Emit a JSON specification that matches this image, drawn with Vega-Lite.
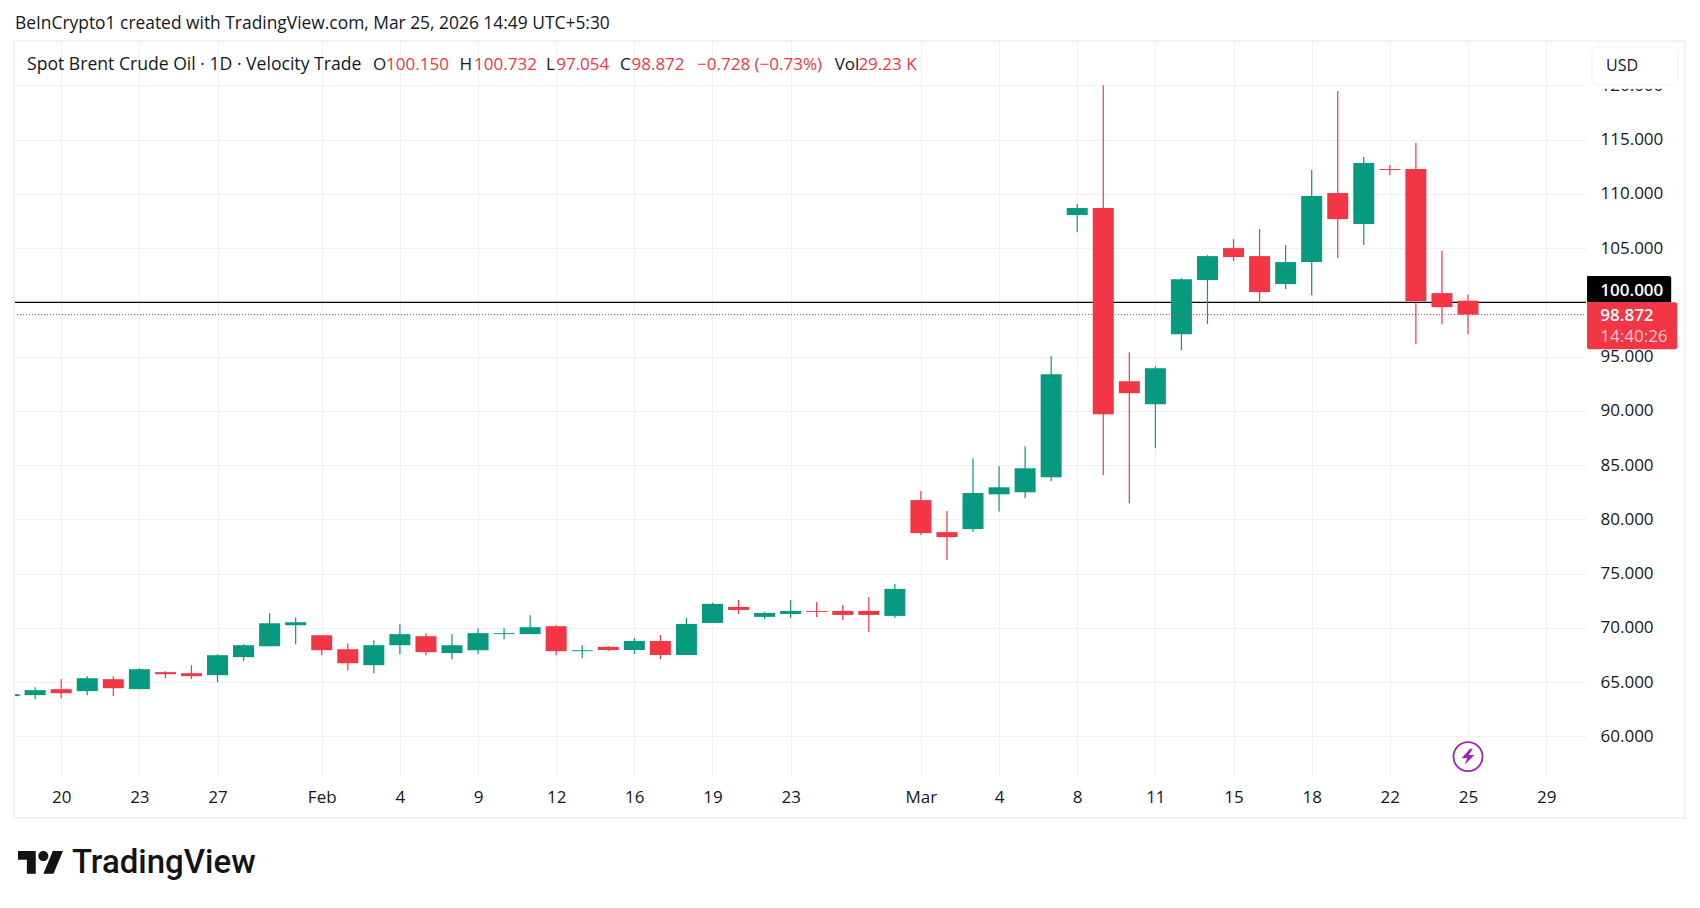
{
  "$schema": "https://vega.github.io/schema/vega-lite/v6.json",
  "description": "Spot Brent Crude Oil daily candles, TradingView snapshot",
  "width": 1572,
  "height": 735,
  "autosize": "none",
  "padding": {"left": 14, "top": 41, "right": 114, "bottom": 132},
  "background": "white",
  "config": {
    "font": "Open Sans",
    "view": {"stroke": null},
    "text": {"font": "Open Sans", "fontSize": 17, "align": "left", "baseline": "middle", "color": "#131722"}
  },
  "datasets": {
    "candles": [
      {"bar": 0, "open": 63.72, "high": 63.9, "low": 63.72, "close": 63.9},
      {"bar": 1, "open": 63.81, "high": 64.54, "low": 63.44, "close": 64.27},
      {"bar": 2, "open": 64.36, "high": 65.28, "low": 63.53, "close": 63.99},
      {"bar": 3, "open": 64.18, "high": 65.56, "low": 63.81, "close": 65.37},
      {"bar": 4, "open": 65.28, "high": 65.56, "low": 63.72, "close": 64.45},
      {"bar": 5, "open": 64.36, "high": 66.29, "low": 64.36, "close": 66.2},
      {"bar": 6, "open": 65.93, "high": 66.02, "low": 65.37, "close": 65.74},
      {"bar": 7, "open": 65.83, "high": 66.57, "low": 65.28, "close": 65.56},
      {"bar": 8, "open": 65.65, "high": 67.58, "low": 65.0, "close": 67.49},
      {"bar": 9, "open": 67.31, "high": 68.5, "low": 66.94, "close": 68.41},
      {"bar": 10, "open": 68.32, "high": 71.36, "low": 68.32, "close": 70.44},
      {"bar": 11, "open": 70.25, "high": 70.99, "low": 68.5, "close": 70.53},
      {"bar": 12, "open": 69.33, "high": 69.33, "low": 67.49, "close": 67.95},
      {"bar": 13, "open": 68.04, "high": 68.6, "low": 66.11, "close": 66.75},
      {"bar": 14, "open": 66.57, "high": 68.87, "low": 65.83, "close": 68.41},
      {"bar": 15, "open": 68.41, "high": 70.35, "low": 67.58, "close": 69.43},
      {"bar": 16, "open": 69.24, "high": 69.52, "low": 67.49, "close": 67.77},
      {"bar": 17, "open": 67.68, "high": 69.43, "low": 67.12, "close": 68.41},
      {"bar": 18, "open": 67.95, "high": 69.98, "low": 67.58, "close": 69.52},
      {"bar": 19, "open": 69.43, "high": 69.98, "low": 68.97, "close": 69.52},
      {"bar": 20, "open": 69.43, "high": 71.18, "low": 69.43, "close": 70.07},
      {"bar": 21, "open": 70.16, "high": 70.25, "low": 67.49, "close": 67.86},
      {"bar": 22, "open": 67.86, "high": 68.41, "low": 67.22, "close": 67.95},
      {"bar": 23, "open": 68.25, "high": 68.34, "low": 67.88, "close": 67.97},
      {"bar": 24, "open": 67.97, "high": 69.08, "low": 67.6, "close": 68.8},
      {"bar": 25, "open": 68.8, "high": 69.35, "low": 67.14, "close": 67.51},
      {"bar": 26, "open": 67.51, "high": 70.92, "low": 67.51, "close": 70.37},
      {"bar": 27, "open": 70.46, "high": 72.31, "low": 70.46, "close": 72.22},
      {"bar": 28, "open": 71.94, "high": 72.58, "low": 71.29, "close": 71.66},
      {"bar": 29, "open": 71.02, "high": 71.48, "low": 70.83, "close": 71.38},
      {"bar": 30, "open": 71.29, "high": 72.58, "low": 70.92, "close": 71.57},
      {"bar": 31, "open": 71.57, "high": 72.4, "low": 71.02, "close": 71.48},
      {"bar": 32, "open": 71.57, "high": 72.12, "low": 70.74, "close": 71.2},
      {"bar": 33, "open": 71.57, "high": 72.86, "low": 69.63, "close": 71.2},
      {"bar": 34, "open": 71.11, "high": 74.06, "low": 70.92, "close": 73.6},
      {"bar": 35, "open": 81.78, "high": 82.61, "low": 78.56, "close": 78.74},
      {"bar": 36, "open": 78.83, "high": 80.77, "low": 76.25, "close": 78.37},
      {"bar": 37, "open": 79.11, "high": 85.63, "low": 78.83, "close": 82.43},
      {"bar": 38, "open": 82.31, "high": 84.89, "low": 80.74, "close": 82.96},
      {"bar": 39, "open": 82.5, "high": 86.74, "low": 81.94, "close": 84.71},
      {"bar": 40, "open": 83.88, "high": 95.04, "low": 83.51, "close": 93.38},
      {"bar": 41, "open": 108.04, "high": 109.06, "low": 106.47, "close": 108.69},
      {"bar": 42, "open": 108.69, "high": 120.0, "low": 84.06, "close": 89.69},
      {"bar": 43, "open": 92.73, "high": 95.41, "low": 81.48, "close": 91.63},
      {"bar": 44, "open": 90.61, "high": 94.12, "low": 86.55, "close": 93.93},
      {"bar": 45, "open": 97.07, "high": 102.23, "low": 95.59, "close": 102.14},
      {"bar": 46, "open": 102.05, "high": 104.35, "low": 97.99, "close": 104.26},
      {"bar": 47, "open": 105.0, "high": 105.83, "low": 103.8, "close": 104.17},
      {"bar": 48, "open": 104.26, "high": 106.75, "low": 99.93, "close": 100.94},
      {"bar": 49, "open": 101.68, "high": 105.28, "low": 101.22, "close": 103.71},
      {"bar": 50, "open": 103.71, "high": 112.19, "low": 100.66, "close": 109.79},
      {"bar": 51, "open": 110.07, "high": 119.48, "low": 104.08, "close": 107.67},
      {"bar": 52, "open": 107.21, "high": 113.4, "low": 105.28, "close": 112.84},
      {"bar": 53, "open": 112.28, "high": 112.65, "low": 111.72, "close": 112.19},
      {"bar": 54, "open": 112.28, "high": 114.68, "low": 96.15, "close": 100.11},
      {"bar": 55, "open": 100.85, "high": 104.75, "low": 97.99, "close": 99.56},
      {"bar": 56, "open": 100.15, "high": 100.732, "low": 97.054, "close": 98.872}
    ]
  },
  "layer": [
    {
      "data": {"values": [{"level": 100}]},
      "mark": {"type": "rule", "color": "#000000", "strokeWidth": 1.2},
      "encoding": {
        "x": {
          "datum": 0.188,
          "type": "quantitative",
          "scale": {"domain": [0.188, 60.53], "nice": false, "zero": false, "padding": 0},
          "axis": {
            "title": null,
            "orient": "bottom",
            "values": [2, 5, 8, 12, 15, 18, 21, 24, 27, 30, 35, 38, 41, 44, 47, 50, 53, 56, 59],
            "labelExpr": "{'2':'20','5':'23','8':'27','12':'Feb','15':'4','18':'9','21':'12','24':'16','27':'19','30':'23','35':'Mar','38':'4','41':'8','44':'11','47':'15','50':'18','53':'22','56':'25','59':'29'}[datum.value]",
            "labelFontSize": 17,
            "labelFontWeight": {"condition": {"test": "datum.label == 'Feb' || datum.label == 'Mar'", "value": 600}, "value": 400},
            "labelColor": "#131722",
            "labelPadding": 13,
            "labelOverlap": false,
            "labelFlush": false,
            "domain": false,
            "ticks": false,
            "grid": true,
            "gridColor": "#f1f1f2",
            "gridWidth": 1
          }
        },
        "x2": {"datum": 60.53},
        "y": {
          "field": "level",
          "type": "quantitative",
          "scale": {"domain": [56.36, 124.08], "nice": false, "zero": false},
          "axis": {
            "title": null,
            "orient": "right",
            "values": [60, 65, 70, 75, 80, 85, 90, 95, 100, 105, 110, 115, 120],
            "format": ".3f",
            "labelFontSize": 17,
            "labelColor": "#131722",
            "labelPadding": 14,
            "labelOverlap": false,
            "labelFlush": false,
            "domain": false,
            "ticks": false,
            "grid": true,
            "gridColor": "#f1f1f2",
            "gridWidth": 1
          }
        }
      }
    },
    {
      "data": {"name": "candles"},
      "mark": {"type": "rule", "strokeWidth": 1.2, "clip": true},
      "encoding": {
        "x": {"field": "bar", "type": "quantitative"},
        "y": {"field": "low", "type": "quantitative"},
        "y2": {"field": "high"},
        "color": {"condition": {"test": "datum.close >= datum.open", "value": "#089981"}, "value": "#f23645"}
      }
    },
    {
      "data": {"name": "candles"},
      "mark": {"type": "bar", "orient": "vertical", "size": 21, "clip": true},
      "encoding": {
        "x": {"field": "bar", "type": "quantitative"},
        "y": {"field": "open", "type": "quantitative"},
        "y2": {"field": "close"},
        "color": {"condition": {"test": "datum.close >= datum.open", "value": "#089981"}, "value": "#f23645"}
      }
    },
    {
      "data": {"values": [{"last": 98.872}]},
      "mark": {"type": "rule", "color": "#f23645", "strokeWidth": 1, "strokeDash": [1, 2]},
      "encoding": {
        "x": {"datum": 0.188},
        "x2": {"datum": 60.53},
        "y": {"field": "last", "type": "quantitative"}
      }
    },
    {
      "data": {"values": [{"name": "frame"}]},
      "mark": {"type": "rect", "fill": null, "stroke": "#f2f2f2", "strokeWidth": 2},
      "encoding": {
        "x": {"datum": 0.188},
        "x2": {"datum": 64.33},
        "y": {"datum": 124.08},
        "y2": {"datum": 52.49}
      }
    },
    {
      "data": {"values": [{"name": "mask"}]},
      "mark": {"type": "rect", "fill": "white"},
      "encoding": {
        "x": {"datum": 60.6},
        "x2": {"datum": 64.2},
        "y": {"datum": 123.9},
        "y2": {"datum": 119.68}
      }
    },
    {
      "data": {"values": [{"name": "button"}]},
      "mark": {"type": "rect", "fill": "white", "stroke": "#f0f0f0", "strokeWidth": 1, "cornerRadius": 6},
      "encoding": {
        "x": {"datum": 60.76},
        "x2": {"datum": 64.07},
        "y": {"datum": 123.53},
        "y2": {"datum": 120.03}
      }
    },
    {
      "data": {"values": [{"name": "level box"}]},
      "mark": {"type": "rect", "fill": "#000000", "cornerRadiusTopRight": 2},
      "encoding": {
        "x": {"datum": 60.57},
        "x2": {"datum": 63.8},
        "y": {"datum": 102.42},
        "y2": {"datum": 99.98}
      }
    },
    {
      "data": {"values": [{"name": "last box"}]},
      "mark": {"type": "rect", "fill": "#f23645", "cornerRadiusTopRight": 2, "cornerRadiusBottomRight": 2, "cornerRadiusBottomLeft": 2},
      "encoding": {
        "x": {"datum": 60.57},
        "x2": {"datum": 64.03},
        "y": {"datum": 100.0},
        "y2": {"datum": 95.69}
      }
    },
    {
      "data": {"values": [{"label": "USD"}]},
      "mark": {"type": "text", "fontSize": 16},
      "encoding": {"x": {"datum": 61.3}, "y": {"datum": 121.75}, "text": {"field": "label"}}
    },
    {
      "data": {"values": [{"label": "100.000"}]},
      "mark": {"type": "text", "color": "white", "fontWeight": 600},
      "encoding": {"x": {"datum": 61.08}, "y": {"datum": 101.05}, "text": {"field": "label"}}
    },
    {
      "data": {"values": [{"label": "98.872"}]},
      "mark": {"type": "text", "color": "white", "fontWeight": 600},
      "encoding": {"x": {"datum": 61.08}, "y": {"datum": 98.75}, "text": {"field": "label"}}
    },
    {
      "data": {"values": [{"label": "14:40:26"}]},
      "mark": {"type": "text", "color": "#fbc9ce"},
      "encoding": {"x": {"datum": 61.08}, "y": {"datum": 96.82}, "text": {"field": "label"}}
    },
    {
      "data": {"values": [{"label": "BeInCrypto1 created with TradingView.com, Mar 25, 2026 14:49 UTC+5:30"}]},
      "mark": {"type": "text", "fontSize": 17.4},
      "encoding": {"x": {"datum": 0.226}, "y": {"datum": 125.63}, "text": {"field": "label"}}
    },
    {
      "data": {"values": [{"label": "Spot Brent Crude Oil · 1D · Velocity Trade"}]},
      "mark": {"type": "text", "fontSize": 17.6},
      "encoding": {"x": {"datum": 0.687}, "y": {"datum": 121.88}, "text": {"field": "label"}}
    },
    {
      "data": {"values": [{"label": "O"}]},
      "mark": {"type": "text"},
      "encoding": {"x": {"datum": 13.97}, "y": {"datum": 121.88}, "text": {"field": "label"}}
    },
    {
      "data": {"values": [{"label": "100.150"}]},
      "mark": {"type": "text", "color": "#f23645"},
      "encoding": {"x": {"datum": 14.47}, "y": {"datum": 121.88}, "text": {"field": "label"}}
    },
    {
      "data": {"values": [{"label": "H"}]},
      "mark": {"type": "text"},
      "encoding": {"x": {"datum": 17.29}, "y": {"datum": 121.88}, "text": {"field": "label"}}
    },
    {
      "data": {"values": [{"label": "100.732"}]},
      "mark": {"type": "text", "color": "#f23645"},
      "encoding": {"x": {"datum": 17.85}, "y": {"datum": 121.88}, "text": {"field": "label"}}
    },
    {
      "data": {"values": [{"label": "L"}]},
      "mark": {"type": "text"},
      "encoding": {"x": {"datum": 20.61}, "y": {"datum": 121.88}, "text": {"field": "label"}}
    },
    {
      "data": {"values": [{"label": "97.054"}]},
      "mark": {"type": "text", "color": "#f23645"},
      "encoding": {"x": {"datum": 21.0}, "y": {"datum": 121.88}, "text": {"field": "label"}}
    },
    {
      "data": {"values": [{"label": "C"}]},
      "mark": {"type": "text"},
      "encoding": {"x": {"datum": 23.45}, "y": {"datum": 121.88}, "text": {"field": "label"}}
    },
    {
      "data": {"values": [{"label": "98.872"}]},
      "mark": {"type": "text", "color": "#f23645"},
      "encoding": {"x": {"datum": 23.89}, "y": {"datum": 121.88}, "text": {"field": "label"}}
    },
    {
      "data": {"values": [{"label": "−0.728 (−0.73%)"}]},
      "mark": {"type": "text", "color": "#f23645"},
      "encoding": {"x": {"datum": 26.41}, "y": {"datum": 121.88}, "text": {"field": "label"}}
    },
    {
      "data": {"values": [{"label": "Vol"}]},
      "mark": {"type": "text"},
      "encoding": {"x": {"datum": 31.69}, "y": {"datum": 121.88}, "text": {"field": "label"}}
    },
    {
      "data": {"values": [{"label": "29.23 K"}]},
      "mark": {"type": "text", "color": "#f23645"},
      "encoding": {"x": {"datum": 32.6}, "y": {"datum": 121.88}, "text": {"field": "label"}}
    },
    {
      "data": {"values": [{"name": "badge"}]},
      "mark": {"type": "point", "shape": "circle", "size": 841, "filled": false, "fill": "white", "fillOpacity": 1, "stroke": "#9c27b0", "strokeWidth": 1.8, "opacity": 1},
      "encoding": {"x": {"datum": 56}, "y": {"datum": 58.14}}
    },
    {
      "data": {"values": [{"name": "bolt"}]},
      "mark": {"type": "point", "shape": "M0.25 -1L-0.8 0.2L-0.1 0.2L-0.4 1L0.8 -0.2L0.1 -0.2L0.6 -1Z", "size": 256, "filled": true, "fill": "#9c27b0", "fillOpacity": 1, "strokeWidth": 0, "opacity": 1},
      "encoding": {"x": {"datum": 56}, "y": {"datum": 58.14}}
    },
    {
      "data": {"values": [{"name": "logo"}]},
      "mark": {
        "type": "point",
        "shape": "M-0.211 0.507L-0.606 0.507L-0.606 -0.113L-1 -0.113L-1 -0.507L-0.211 -0.507ZM0.577 0.507L0.127 0.507L0.549 -0.507L1 -0.507ZM-0.098 -0.282a0.225 0.225 0 1 0 0.45 0a0.225 0.225 0 1 0 -0.45 0Z",
        "size": 2025,
        "filled": true,
        "fill": "#131313",
        "fillOpacity": 1,
        "strokeWidth": 0,
        "opacity": 1
      },
      "encoding": {"x": {"datum": 1.205}, "y": {"datum": 48.41}}
    },
    {
      "data": {"values": [{"label": "TradingView"}]},
      "mark": {"type": "text", "font": "Roboto", "fontSize": 33, "fontWeight": 500, "color": "#131313"},
      "encoding": {"x": {"datum": 2.41}, "y": {"datum": 48.3}, "text": {"field": "label"}}
    }
  ]
}
